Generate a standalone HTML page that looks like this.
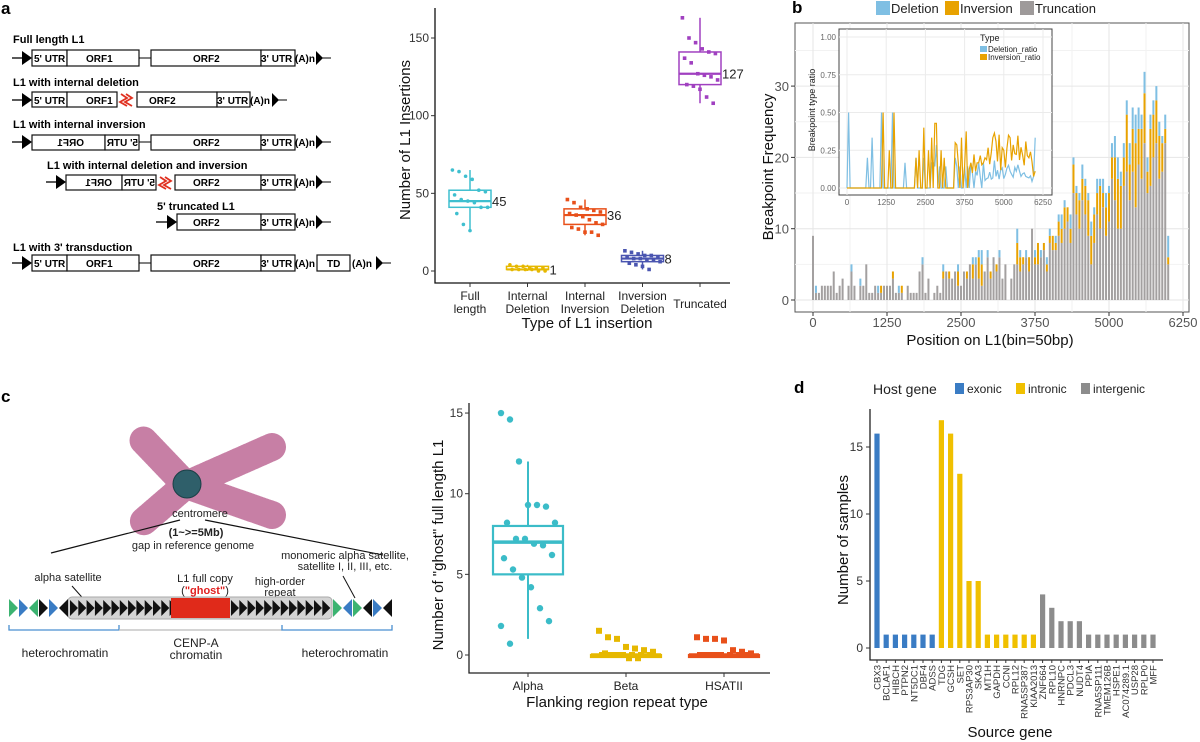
<!DOCTYPE html>
<html><head><meta charset="utf-8"><style>
body{margin:0;background:#fff;}
svg{display:block;font-family:"Liberation Sans",Arial,sans-serif;}
.t{font-size:12px;fill:#111}
.bx{fill:#fff;stroke:#111;stroke-width:1.2}
.lbl{font-size:11px;font-weight:bold;fill:#111}
.tk{font-size:11px;fill:#333}
</style></head><body>
<svg id="fig" width="1200" height="742" viewBox="0 0 1200 742">
<!-- PANEL A DIAGRAM -->
<g font-size="10" font-weight="bold">
<text x="1" y="14" font-size="17" font-weight="bold">a</text>
<text x="13" y="43" font-size="11">Full length L1</text>
<g>
<line x1="12" y1="58" x2="24" y2="58" stroke="#000" stroke-width="1.3"/><polygon points="22,51 32,58 22,65" fill="#000"/>
<rect class="bx" x="32" y="50" width="35" height="16"/><text x="34" y="62">5' UTR</text>
<rect class="bx" x="67" y="50" width="72" height="16"/><text x="86" y="62">ORF1</text>
<line x1="139" y1="58" x2="151" y2="58" stroke="#000"/>
<rect class="bx" x="151" y="50" width="110" height="16"/><text x="193" y="62">ORF2</text>
<rect class="bx" x="261" y="50" width="34" height="16"/><text x="261" y="62">3' UTR</text>
<text x="295" y="62">(A)n</text><polygon points="316,51 323,58 316,65" fill="#000"/><line x1="322" y1="58" x2="331" y2="58" stroke="#000"/>
</g>
<text x="13" y="86" font-size="11">L1 with internal deletion</text>
<g>
<line x1="12" y1="100" x2="24" y2="100" stroke="#000" stroke-width="1.3"/><polygon points="22,93 32,100 22,107" fill="#000"/>
<rect class="bx" x="32" y="92" width="35" height="15"/><text x="34" y="104">5' UTR</text>
<rect class="bx" x="67" y="92" width="50" height="15"/><text x="86" y="104">ORF1</text>
<path d="M121,94 L127,98 L120,102 L127,106 M126,94 L132,98 L125,102 L132,106" stroke="#e03020" stroke-width="1.8" fill="none"/>
<rect class="bx" x="137" y="92" width="80" height="15"/><text x="149" y="104">ORF2</text>
<rect class="bx" x="217" y="92" width="33" height="15"/><text x="217" y="104">3' UTR</text>
<text x="250" y="104">(A)n</text><polygon points="272,93 279,100 272,107" fill="#000"/><line x1="278" y1="100" x2="287" y2="100" stroke="#000"/>
</g>
<text x="13" y="128" font-size="11">L1 with internal inversion</text>
<g>
<line x1="12" y1="142" x2="24" y2="142" stroke="#000" stroke-width="1.3"/><polygon points="22,135 32,142 22,149" fill="#000"/>
<rect class="bx" x="32" y="135" width="73" height="15"/><text transform="translate(84,146) scale(-1,1)">ORF1</text>
<rect class="bx" x="105" y="135" width="34" height="15"/><text transform="translate(138,146) scale(-1,1)">5' UTR</text>
<line x1="139" y1="142" x2="151" y2="142" stroke="#000"/>
<rect class="bx" x="151" y="135" width="110" height="15"/><text x="193" y="146">ORF2</text>
<rect class="bx" x="261" y="135" width="34" height="15"/><text x="261" y="146">3' UTR</text>
<text x="295" y="146">(A)n</text><polygon points="316,135 323,142 316,149" fill="#000"/><line x1="322" y1="142" x2="331" y2="142" stroke="#000"/>
</g>
<text x="47" y="169" font-size="11">L1 with internal deletion and inversion</text>
<g>
<line x1="46" y1="182" x2="58" y2="182" stroke="#000" stroke-width="1.3"/><polygon points="56,175 66,182 56,189" fill="#000"/>
<rect class="bx" x="66" y="175" width="56" height="15"/><text transform="translate(112,186) scale(-1,1)">ORF1</text>
<rect class="bx" x="122" y="175" width="34" height="15"/><text transform="translate(155,186) scale(-1,1)">5' UTR</text>
<path d="M160,177 L166,181 L159,185 L166,189 M165,177 L171,181 L164,185 L171,189" stroke="#e03020" stroke-width="1.8" fill="none"/>
<rect class="bx" x="175" y="175" width="86" height="15"/><text x="193" y="186">ORF2</text>
<rect class="bx" x="261" y="175" width="34" height="15"/><text x="261" y="186">3' UTR</text>
<text x="295" y="186">(A)n</text><polygon points="316,175 323,182 316,189" fill="#000"/><line x1="322" y1="182" x2="331" y2="182" stroke="#000"/>
</g>
<text x="157" y="210" font-size="11">5' truncated L1</text>
<g>
<line x1="156" y1="222" x2="168" y2="222" stroke="#000" stroke-width="1.3"/><polygon points="167,215 177,222 167,229" fill="#000"/>
<rect class="bx" x="177" y="214" width="84" height="16"/><text x="193" y="226">ORF2</text>
<rect class="bx" x="261" y="214" width="34" height="16"/><text x="261" y="226">3' UTR</text>
<text x="295" y="226">(A)n</text><polygon points="316,215 323,222 316,229" fill="#000"/><line x1="322" y1="222" x2="331" y2="222" stroke="#000"/>
</g>
<text x="13" y="251" font-size="11">L1 with 3' transduction</text>
<g>
<line x1="12" y1="263" x2="24" y2="263" stroke="#000" stroke-width="1.3"/><polygon points="22,256 32,263 22,270" fill="#000"/>
<rect class="bx" x="32" y="255" width="35" height="16"/><text x="34" y="267">5' UTR</text>
<rect class="bx" x="67" y="255" width="72" height="16"/><text x="86" y="267">ORF1</text>
<line x1="139" y1="263" x2="151" y2="263" stroke="#000"/>
<rect class="bx" x="151" y="255" width="110" height="16"/><text x="193" y="267">ORF2</text>
<rect class="bx" x="261" y="255" width="34" height="16"/><text x="261" y="267">3' UTR</text>
<text x="295" y="267">(A)n</text>
<rect class="bx" x="317" y="255" width="33" height="16"/><text x="327" y="267">TD</text>
<text x="352" y="267">(A)n</text><polygon points="376,256 383,263 376,270" fill="#000"/><line x1="382" y1="263" x2="391" y2="263" stroke="#000"/>
</g>
</g>

<g id="pa"></g>
<g id="pb"></g>

<!-- PANEL C DIAGRAM -->
<g>
<text x="1" y="402" font-size="17" font-weight="bold">c</text>
<g stroke="#b04a80" stroke-linecap="round" opacity="0.7">
<line x1="186" y1="485" x2="143" y2="440" stroke-width="28" stroke-dasharray="1.5 1.5"/>
<line x1="186" y1="485" x2="272" y2="447" stroke-width="28" stroke-dasharray="1.5 1.5"/>
<line x1="186" y1="485" x2="143" y2="522" stroke-width="28" stroke-dasharray="1.5 1.5"/>
<line x1="186" y1="485" x2="272" y2="515" stroke-width="28" stroke-dasharray="1.5 1.5"/>
</g>
<circle cx="187" cy="484" r="14" fill="#2f5f6a" stroke="#1b3f46"/>
<text x="200" y="517" font-size="11" text-anchor="middle" fill="#222">centromere</text>
<text x="196" y="536" font-size="11" font-weight="bold" text-anchor="middle" fill="#222">(1~&gt;=5Mb)</text>
<text x="193" y="549" font-size="11" text-anchor="middle" fill="#222">gap in reference genome</text>
<line x1="51" y1="553" x2="180" y2="520" stroke="#111" stroke-width="1.2"/>
<line x1="205" y1="520" x2="383" y2="555" stroke="#111" stroke-width="1.2"/>
<text x="68" y="581" font-size="11" text-anchor="middle" fill="#222">alpha satellite</text>
<line x1="72" y1="586" x2="88" y2="604" stroke="#111"/>
<text x="205" y="582" font-size="11" text-anchor="middle" fill="#222">L1 full copy</text>
<text x="205" y="594" font-size="11" text-anchor="middle" fill="#222">(<tspan fill="#e02020" font-weight="bold">"ghost"</tspan>)</text>
<text x="280" y="585" font-size="11" text-anchor="middle" fill="#222">high-order</text>
<text x="280" y="596" font-size="11" text-anchor="middle" fill="#222">repeat</text>
<text x="345" y="559" font-size="11" text-anchor="middle" fill="#222">monomeric alpha satellite,</text>
<text x="345" y="570" font-size="11" text-anchor="middle" fill="#222">satellite I, II, III, etc.</text>
<line x1="343" y1="576" x2="355" y2="598" stroke="#111"/>
<rect x="68" y="597" width="264" height="22" rx="4" fill="#d4d4d4" stroke="#aaa"/>
<g id="tri"></g>
<rect x="171" y="598" width="59" height="20" fill="#e02a1a"/>
<g fill="none" stroke-width="1.3">
<path d="M9,625 V630 H119 V625" stroke="#4a8fd0"/>
<path d="M119,630 H282" stroke="#bbb"/>
<path d="M282,625 V630 H392 V625" stroke="#4a8fd0"/>
</g>
<text x="65" y="657" font-size="12" text-anchor="middle" fill="#222">heterochromatin</text>
<text x="196" y="647" font-size="12" text-anchor="middle" fill="#222">CENP-A</text>
<text x="196" y="659" font-size="12" text-anchor="middle" fill="#222">chromatin</text>
<text x="345" y="657" font-size="12" text-anchor="middle" fill="#222">heterochromatin</text>
</g>

<g id="pc"></g>
<g id="pd"></g>
</svg>
<script>
// ===== Panel a data =====
const aCats=["Full\nlength","Internal\nDeletion","Internal\nInversion","Inversion\nDeletion","Truncated"];
const aColors=["#3fbfcf","#e6b800","#e8501a","#4a55b0","#a040c0"];
const aQ1=[41,1,30,6,120];
const aMed=[45,1,36,8,127];
const aQ3=[52,3,40,10,141];
const aLo=[26,0,23,1,108];
const aHi=[65,4,46,13,163];
const aLabels=["45","1","36","8","127"];
const aPts0=[65,64,61,59,52,51,49,46,45,44,41,41,37,30,26];
const aPts1=[4,3,3,2,2,2,1,1,1,1,0,0];
const aPts2=[46,44,41,40,39,38,37,36,35,33,31,30,28,27,25,25,23];
const aPts3=[13,12,11,10,10,9,9,8,8,7,7,6,5,4,3,1];
const aPts4=[163,150,147,143,141,140,137,134,127,126,125,123,120,119,117,112,108];
const aPts=[aPts0,aPts1,aPts2,aPts3,aPts4];
const aTicks=[0,50,100,150];

// ===== Panel b data (bins of 50bp) =====
const bTrunc=[9,1,1,2,2,2,2,4,1,2, 3,0,2,4,2,0,2,2,5,1, 1,2,1,1,2,2,2,3,1,1, 1,0,2,1,1,1,4,5,1,3, 0,1,2,1,3,4,3,3,4,2, 2,4,3,5,3,5,3,2,4,6, 3,6,4,6,3,5,0,3,5,5, 4,5,6,4,10,5,5,6,7,4, 8,7,7,9,8,10,11,8,15,12, 10,14,12,9,5,8,12,10,13,9, 11,17,14,10,10,16,18,14,18,13, 19,17,22,15,16,20,22,17,18,22, 5];
const bInv=[0,0,0,0,0,0,0,0,0,0, 0,0,0,0,0,0,0,0,0,0, 0,0,0,1,0,0,0,1,0,0, 1,0,0,0,0,0,0,0,0,0, 0,0,0,0,1,0,1,0,0,2, 0,0,1,0,2,0,3,3,0,0, 1,0,1,0,0,0,0,0,0,3, 2,1,0,2,0,1,3,0,1,1, 1,2,1,2,2,3,2,2,4,3, 4,3,4,5,4,4,3,6,2,4, 4,3,6,7,6,4,8,5,6,9, 5,7,7,3,8,6,6,6,4,2, 1];
const bDel=[0,1,0,0,0,0,0,0,0,0, 0,0,0,1,0,0,1,0,0,0, 0,0,1,0,0,0,0,0,0,1, 0,0,0,0,0,0,0,1,0,0, 0,0,0,0,1,0,0,0,0,1, 0,0,0,0,1,1,1,2,0,1, 0,0,0,1,0,0,0,0,0,2, 1,0,1,0,0,1,0,1,0,1, 1,0,1,1,2,1,0,2,1,1, 1,2,1,1,2,1,2,1,2,2, 1,2,3,3,2,2,2,3,3,4, 3,2,3,2,2,2,2,2,1,2, 3];
const bTicksY=[0,10,20,30];
const bTicksX=[0,1250,2500,3750,5000,6250];
const bInsetTicksY=[0,0.25,0.5,0.75,1.0];

// ===== Panel c data =====
const cCats=["Alpha","Beta","HSATII"];
const cColors=["#3bbcc8","#e6b800","#e8501a"];
const cQ1=[5,0,0], cMed=[7,0,0], cQ3=[8,0,0], cLo=[1,0,0], cHi=[12,0,0];
const cPts0=[15,14.6,12,9.3,9.3,9.2,8.2,8.2,7.2,7.2,6.9,6.8,6.2,6,5.3,4.8,4.2,2.9,2.1,1.8,0.7];
const cPts1=[1.5,1.1,1,0.5,0.4,0.3,0.2,0.1,0,0,0,0,0,0,0,0,-0.2,-0.2];
const cPts2=[1.1,1,1,0.9,0.3,0.2,0.1,0,0,0,0,0,0,0,0,0];
const cPts=[cPts0,cPts1,cPts2];
const cTicks=[0,5,10,15];

// ===== Panel d data =====
const dGenes=["CBX3","BCLAF1","HIBCH","PTPN2","NT5DC1","DBF4","ADSS","TDG","GCSH","SET","RPS3AP30","SKA3","MT1H","GAPDH","CCNI","RPL12","RNA5SP387","KIAA2013","ZNF664","RPL10","HNRNPC","PDCL3","NUDT4","PPIA","RNA5SP111","TMEM126B","HSPE1","AC074289.1","USP28","RPLP0","MFF"];
const dValues=[16,1,1,1,1,1,1,17,16,13,5,5,1,1,1,1,1,1,4,3,2,2,2,1,1,1,1,1,1,1,1];
const dTypes=["exonic","exonic","exonic","exonic","exonic","exonic","exonic","intronic","intronic","intronic","intronic","intronic","intronic","intronic","intronic","intronic","intronic","intronic","intergenic","intergenic","intergenic","intergenic","intergenic","intergenic","intergenic","intergenic","intergenic","intergenic","intergenic","intergenic","intergenic"];
const dLegend=["exonic","intronic","intergenic"];
const dTicks=[0,5,10,15];

const NS="http://www.w3.org/2000/svg";
function mk(parent,tag,attrs,text){const e=document.createElementNS(NS,tag);for(const k in attrs)e.setAttribute(k,attrs[k]);if(text!==undefined)e.textContent=text;parent.appendChild(e);return e;}

// ---------- Panel a boxplot ----------
(function(){
const g=document.getElementById('pa');
const yA=v=>271-v*(233/150);
const xA=i=>470+i*57.5;
let ax=mk(g,'path',{d:'M435,8 V283 H730',fill:'none',stroke:'#111','stroke-width':1.3});


aTicks.forEach(t=>{mk(g,'line',{x1:431,x2:435,y1:yA(t),y2:yA(t),stroke:'#333'});
 let tl=mk(g,'text',{x:429,y:yA(t)+4,'text-anchor':'end','font-size':12,fill:'#333'},t);
 
 });
aCats.forEach((c,i)=>{
 const x=xA(i),col=aColors[i];
 mk(g,'line',{x1:x,x2:x,y1:283,y2:287,stroke:'#333'});
 const parts=c.split('\n');
 parts.forEach((p,j)=>{let tl=mk(g,'text',{x:x,y:(parts.length==1?308:300+j*13),'text-anchor':'middle','font-size':12,fill:'#222'},p);
  
  });
 mk(g,'line',{x1:x,x2:x,y1:yA(aLo[i]),y2:yA(aHi[i]),stroke:col,'stroke-width':1.5});
 let b=mk(g,'rect',{x:x-21,y:yA(aQ3[i]),width:42,height:Math.max(2,yA(aQ1[i])-yA(aQ3[i])),fill:'#fff',stroke:col,'stroke-width':1.5});
 
 
 mk(g,'line',{x1:x-21,x2:x+21,y1:yA(aMed[i]),y2:yA(aMed[i]),stroke:col,'stroke-width':2.2});
 aPts[i].forEach((v,k)=>{const jx=((k*37)%17-8)*2.2;
  let p=mk(g,'rect',{x:x+jx-1.8,y:yA(v)-1.8,width:3.6,height:3.6,fill:col,rx:(i<2?1.8:0)});
  
  });
 let lb=mk(g,'text',{x:x+22,y:yA(aMed[i])+5,'font-size':13,fill:'#222'},aLabels[i]);
 
 
});
let yt=mk(g,'text',{transform:'translate(410,140) rotate(-90)','text-anchor':'middle','font-size':15,fill:'#111'},'Number of L1 Insertions');


let xt=mk(g,'text',{x:587,y:328,'text-anchor':'middle','font-size':15,fill:'#111'},'Type of L1 insertion');


})();

// ---------- Panel b ----------
(function(){
const g=document.getElementById('pb');
const xB=p=>813+p*(370/6250);
const yB=v=>300-v*7.13;
let lab=mk(g,'text',{x:792,y:13,'font-size':17,'font-weight':'bold'},'b');


const leg=[["Deletion","#7fbfe3",876],["Inversion","#e8a200",945],["Truncation","#9e9a9a",1020]];
leg.forEach(l=>{let r=mk(g,'rect',{x:l[2],y:1,width:14,height:14,fill:l[1]});
 
 
 let t=mk(g,'text',{x:l[2]+15,y:13,'font-size':13,fill:'#222'},l[0]);
 
 });
mk(g,'rect',{x:795,y:23,width:394,height:289,fill:'#fff',stroke:'#555','stroke-width':1});
for(let v=5;v<=40;v+=10) mk(g,'line',{x1:795,x2:1189,y1:yB(v),y2:yB(v),stroke:'#f2f2f2'});
for(let p=625;p<6250;p+=1250) mk(g,'line',{x1:xB(p),x2:xB(p),y1:23,y2:312,stroke:'#f2f2f2'});
bTicksY.forEach(t=>{mk(g,'line',{x1:795,x2:1189,y1:yB(t),y2:yB(t),stroke:'#e6e6e6'});
 mk(g,'line',{x1:791,x2:795,y1:yB(t),y2:yB(t),stroke:'#333'});
 let tl=mk(g,'text',{x:789,y:yB(t)+5,'text-anchor':'end','font-size':13,fill:'#555'},t);
 
 });
bTicksX.forEach(t=>{mk(g,'line',{x1:xB(t),x2:xB(t),y1:23,y2:312,stroke:'#e6e6e6'});
 mk(g,'line',{x1:xB(t),x2:xB(t),y1:312,y2:316,stroke:'#333'});
 let tl=mk(g,'text',{x:xB(t),y:327,'text-anchor':'middle','font-size':13,fill:'#555'},t);
 
 });
bTrunc.forEach((tv,i)=>{
 const x=xB(i*50)-1, iv=bInv[i], dv=bDel[i];
 let r1=mk(g,'rect',{x:x,y:yB(tv),width:2,height:yB(0)-yB(tv),fill:'#a3a0a0'});
 
 
 if(iv>0){let r2=mk(g,'rect',{x:x,y:yB(tv+iv),width:2,height:yB(tv)-yB(tv+iv),fill:'#e8a200'});
  
  }
 if(dv>0){let r3=mk(g,'rect',{x:x,y:yB(tv+iv+dv),width:2,height:yB(tv+iv)-yB(tv+iv+dv),fill:'#7fbfe3'});
  
  }
});
let yt=mk(g,'text',{transform:'translate(773,167) rotate(-90)','text-anchor':'middle','font-size':15,fill:'#111'},'Breakpoint Frequency');


let xt=mk(g,'text',{x:990,y:345,'text-anchor':'middle','font-size':15,fill:'#111'},'Position on L1(bin=50bp)');


const ig=mk(g,'g',{});


const xI=p=>847+p*(196/6250), yI=r=>188-r*151;
mk(ig,'rect',{x:839,y:29,width:213,height:166,fill:'#fff',stroke:'#444','stroke-width':1});
bInsetTicksY.forEach(t=>{mk(ig,'line',{x1:839,x2:1052,y1:yI(t),y2:yI(t),stroke:'#ebebeb'});
 let tl=mk(ig,'text',{x:836,y:yI(t)+3,'text-anchor':'end','font-size':8,fill:'#666'},t.toFixed(2));
 
 });
bTicksX.forEach(t=>{mk(ig,'line',{x1:xI(t),x2:xI(t),y1:29,y2:195,stroke:'#ebebeb'});
 let tl=mk(ig,'text',{x:xI(t),y:205,'text-anchor':'middle','font-size':8,fill:'#666'},t);
 
 });
let dp='',ip='';
bTrunc.forEach((tv,i)=>{const tot=tv+bInv[i]+bDel[i];const dr=tot?bDel[i]/tot:0, ir=tot?bInv[i]/tot:0;
 dp+=(i?'L':'M')+xI(i*50).toFixed(1)+','+yI(dr).toFixed(1);
 ip+=(i?'L':'M')+xI(i*50).toFixed(1)+','+yI(ir).toFixed(1);});
let dl=mk(ig,'path',{d:dp,fill:'none',stroke:'#7fbfe3','stroke-width':1.2});


let il=mk(ig,'path',{d:ip,fill:'none',stroke:'#e8a200','stroke-width':1.2});


let iyt=mk(ig,'text',{transform:'translate(815,110) rotate(-90)','text-anchor':'middle','font-size':9,fill:'#222'},'Breakpoint type ratio');


let lt=mk(ig,'text',{x:980,y:41,'font-size':9,fill:'#222'},'Type');


[["Deletion_ratio","#7fbfe3",46],["Inversion_ratio","#e8a200",54]].forEach(l=>{
 mk(ig,'rect',{x:980,y:l[2],width:7,height:6,fill:l[1]});
 let t=mk(ig,'text',{x:988,y:l[2]+6,'font-size':8,fill:'#222'},l[0]);
 
 });
})();

// ---------- Panel c diagram triangles ----------
(function(){
const g=document.getElementById('tri');
const seqL=[['#3cb371',1],['#3a7cc4',1],['#3cb371',-1],['#111',1],['#3a7cc4',1],['#111',-1]];
let x=9;
seqL.forEach(s=>{const d=s[1];const p=d>0?`${x},599 ${x+9},608 ${x},617`:`${x+9},599 ${x},608 ${x+9},617`;mk(g,'polygon',{points:p,fill:s[0]});x+=10;});
for(let xx=70;xx<170;xx+=8.3) mk(g,'polygon',{points:`${xx},600 ${xx+8},608 ${xx},616`,fill:'#111'});
for(let xx=231;xx<328;xx+=8.3) mk(g,'polygon',{points:`${xx},600 ${xx+8},608 ${xx},616`,fill:'#111'});
const seqR=[['#3cb371',1],['#3a7cc4',-1],['#3cb371',1],['#111',-1],['#3a7cc4',1],['#111',-1]];
x=333;
seqR.forEach(s=>{const d=s[1];const p=d>0?`${x},599 ${x+9},608 ${x},617`:`${x+9},599 ${x},608 ${x+9},617`;mk(g,'polygon',{points:p,fill:s[0]});x+=10;});
})();

// ---------- Panel c boxplot ----------
(function(){
const g=document.getElementById('pc');
const yC=v=>655-v*16.13, xC=i=>528+i*98;
let ax=mk(g,'path',{d:'M469,403 V673 H770',fill:'none',stroke:'#222','stroke-width':1.3});


cTicks.forEach(t=>{mk(g,'line',{x1:465,x2:469,y1:yC(t),y2:yC(t),stroke:'#333'});
 let tl=mk(g,'text',{x:463,y:yC(t)+4,'text-anchor':'end','font-size':12,fill:'#333'},t);
 
 });
cCats.forEach((c,i)=>{const x=xC(i),col=cColors[i];
 mk(g,'line',{x1:x,x2:x,y1:673,y2:677,stroke:'#333'});
 let tl=mk(g,'text',{x:x,y:690,'text-anchor':'middle','font-size':12,fill:'#222'},c);
 
 
 mk(g,'line',{x1:x,x2:x,y1:yC(cLo[i]),y2:yC(cHi[i]),stroke:col,'stroke-width':2});
 let b=mk(g,'rect',{x:x-35,y:yC(cQ3[i]),width:70,height:Math.max(2,yC(cQ1[i])-yC(cQ3[i])),fill:'#fff',stroke:col,'stroke-width':2.2});
 
 
 mk(g,'line',{x1:x-35,x2:x+35,y1:yC(cMed[i]),y2:yC(cMed[i]),stroke:col,'stroke-width':3.5});
 cPts[i].forEach((v,k)=>{const jx=((k*41)%19-9)*3;
  let p=mk(g,i==0?'circle':'rect',i==0?{cx:x+jx,cy:yC(v),r:3.2,fill:col}:{x:x+jx-3,y:yC(v)-3,width:6,height:6,fill:col});
  
  });
});
let yt=mk(g,'text',{transform:'translate(443,545) rotate(-90)','text-anchor':'middle','font-size':15,fill:'#111'},'Number of "ghost" full length L1');


let xt=mk(g,'text',{x:617,y:707,'text-anchor':'middle','font-size':15,fill:'#111'},'Flanking region repeat type');


})();

// ---------- Panel d ----------
(function(){
const g=document.getElementById('pd');
const yD=v=>648-v*13.4, xD=i=>877+i*9.2;
const colMap={exonic:'#3a7cc4',intronic:'#f0c000',intergenic:'#8c8c8c'};
let lab=mk(g,'text',{x:794,y:393,'font-size':17,'font-weight':'bold'},'d');


let lt=mk(g,'text',{x:873,y:394,'font-size':14,fill:'#222'},'Host gene');


const lx=[955,1016,1081];
dLegend.forEach((l,i)=>{mk(g,'rect',{x:lx[i],y:383,width:9,height:11,fill:colMap[l]});
 let t=mk(g,'text',{x:lx[i]+12,y:393,'font-size':12,fill:'#222'},l);
 
 });
let ax=mk(g,'path',{d:'M870,409 V660 H1163',fill:'none',stroke:'#222','stroke-width':1.3});


dTicks.forEach(t=>{mk(g,'line',{x1:866,x2:870,y1:yD(t),y2:yD(t),stroke:'#333'});
 let tl=mk(g,'text',{x:863,y:yD(t)+4,'text-anchor':'end','font-size':12,fill:'#333'},t);
 
 });
dGenes.forEach((gn,i)=>{const x=xD(i),v=dValues[i];
 let r=mk(g,'rect',{x:x-2.6,y:yD(v),width:5.2,height:yD(0)-yD(v),fill:colMap[dTypes[i]]});
 
 
 mk(g,'line',{x1:x,x2:x,y1:660,y2:663,stroke:'#333'});
 let tl=mk(g,'text',{transform:`translate(${x+3.5},665) rotate(-90)`,'text-anchor':'end','font-size':9.5,fill:'#333'},gn);
 
 
});
let yt=mk(g,'text',{transform:'translate(848,540) rotate(-90)','text-anchor':'middle','font-size':15,fill:'#111'},'Number of samples');


let xt=mk(g,'text',{x:1010,y:737,'text-anchor':'middle','font-size':15,fill:'#111'},'Source gene');


})();
</script>
</body></html>
